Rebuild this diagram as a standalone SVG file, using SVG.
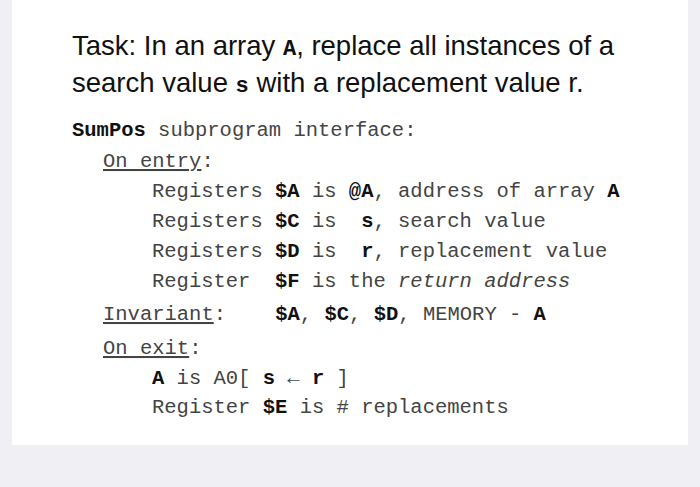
<svg xmlns="http://www.w3.org/2000/svg" width="700" height="487" viewBox="0 0 700 487">
<style>
.t{font-family:"Liberation Sans",Arial,sans-serif;font-size:27.5px;fill:#111}
.m{font-family:"Liberation Mono","Courier New",monospace;font-size:20.5px;fill:#444;white-space:pre}
.b{font-weight:bold;fill:#111}
.u{text-decoration:underline}
</style>
<rect width="700" height="487" fill="#efeff4"/>
<rect x="12" y="0" width="676" height="445" fill="#fff"/>
<g id="title">
<text class="t" x="72" y="55">Task: In an array <tspan class="m b" style="font-size:22px">A</tspan>, replace all instances of a</text>
<text class="t" x="72" y="92">search value <tspan class="m b" style="font-size:22px">s</tspan> with a replacement value r.</text>
</g>
<g id="interface" xml:space="preserve">
<text class="m" x="72" y="136"><tspan class="b">SumPos</tspan> subprogram interface:</text>
<text class="m" x="103" y="167"><tspan class="u">On entry</tspan>:</text>
<text class="m" x="152" y="197">Registers <tspan class="b">$A</tspan> is <tspan class="b">@A</tspan>, address of array <tspan class="b">A</tspan></text>
<text class="m" x="152" y="227">Registers <tspan class="b">$C</tspan> is  <tspan class="b">s</tspan>, search value</text>
<text class="m" x="152" y="257">Registers <tspan class="b">$D</tspan> is  <tspan class="b">r</tspan>, replacement value</text>
<text class="m" x="152" y="287">Register  <tspan class="b">$F</tspan> is the <tspan font-style="italic">return address</tspan></text>
<text class="m" x="103" y="320"><tspan class="u">Invariant</tspan>:    <tspan class="b">$A</tspan>, <tspan class="b">$C</tspan>, <tspan class="b">$D</tspan>, MEMORY - <tspan class="b">A</tspan></text>
<text class="m" x="103" y="354"><tspan class="u">On exit</tspan>:</text>
<text class="m" x="152" y="384"><tspan class="b">A</tspan> is A0[ <tspan class="b">s</tspan> ← <tspan class="b">r</tspan> ]</text>
<text class="m" x="152" y="413">Register <tspan class="b">$E</tspan> is # replacements</text>
</g>
</svg>
